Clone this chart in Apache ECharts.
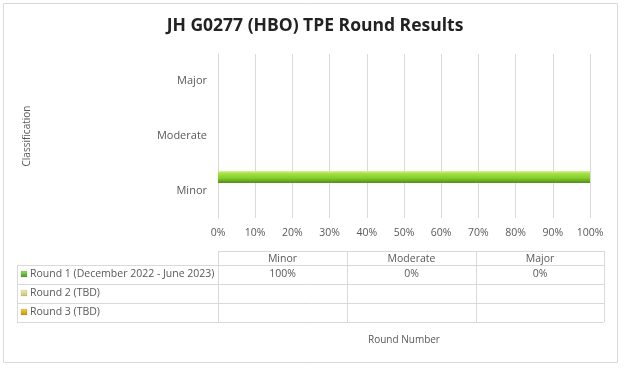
<!DOCTYPE html>
<html><head><meta charset="utf-8">
<script src="https://cdn.jsdelivr.net/npm/echarts@6/dist/echarts.min.js"></script>
<style>html,body{margin:0;padding:0;background:#fff}#c{width:624px;height:371px}</style>
</head><body><div id="c"></div>
<script>
var titleText = 'JH G0277 (HBO) TPE Round Results';
var categories = ['Minor', 'Moderate', 'Major'];
var seriesNames = ['Round 1 (December 2022 - June 2023)', 'Round 2 (TBD)', 'Round 3 (TBD)'];
var round1 = [100, 0, 0];
var round2 = [null, null, null];
var round3 = [null, null, null];
var xTicks = [0, 10, 20, 30, 40, 50, 60, 70, 80, 90, 100];
var yAxisTitle = 'Classification';
var xAxisTitle = 'Round Number';

var font = 'Open Sans';
var txt = '#595959';
var lineC = '#d9d9d9';
var keyColors = [
  new echarts.graphic.LinearGradient(0,0,0,1,[{offset:0,color:'#9fdc5a'},{offset:1,color:'#3f9a2a'}]),
  new echarts.graphic.LinearGradient(0,0,0,1,[{offset:0,color:'#eeeeb0'},{offset:1,color:'#c8c070'}]),
  new echarts.graphic.LinearGradient(0,0,0,1,[{offset:0,color:'#f5d040'},{offset:1,color:'#c89000'}])
];
var barGrad = new echarts.graphic.LinearGradient(0,0,0,1,[
  {offset:0,color:'#d4f59a'},{offset:0.2,color:'#a8e248'},{offset:0.6,color:'#84cc2a'},{offset:1,color:'#4f8e18'}]);

var allData = [round1, round2, round3];
var chart = echarts.init(document.getElementById('c'));

var colX = [218, 347, 476, 604];
var rowY = [251, 265, 284, 303, 322];
var tblLeft = 17;
var g = [];
g.push({type:'rect', shape:{x:3.5,y:3.5,width:614,height:359}, style:{fill:null, stroke:lineC, lineWidth:1}, silent:true});
g.push({type:'line', shape:{x1:colX[0],y1:rowY[0]+0.5,x2:colX[3],y2:rowY[0]+0.5}, style:{stroke:lineC,lineWidth:1}});
for (var r=1;r<rowY.length;r++){
  g.push({type:'line', shape:{x1:tblLeft,y1:rowY[r]+0.5,x2:colX[3],y2:rowY[r]+0.5}, style:{stroke:lineC,lineWidth:1}});
}
g.push({type:'line', shape:{x1:tblLeft+0.5,y1:rowY[1],x2:tblLeft+0.5,y2:rowY[4]}, style:{stroke:lineC,lineWidth:1}});
for (var c=0;c<colX.length;c++){
  g.push({type:'line', shape:{x1:colX[c]+0.5,y1:rowY[0],x2:colX[c]+0.5,y2:rowY[4]}, style:{stroke:lineC,lineWidth:1}});
}
categories.forEach(function(cat,i){
  g.push({type:'text', style:{text:cat, x:(colX[i]+colX[i+1])/2, y:(rowY[0]+rowY[1])/2+1, align:'center', verticalAlign:'middle', font:'10.5px "'+font+'"', fill:txt}});
});
seriesNames.forEach(function(name,s){
  var yc = (rowY[s+1]+rowY[s+2])/2;
  g.push({type:'rect', shape:{x:21,y:yc-3.5,width:6,height:6}, style:{fill:keyColors[s], stroke:'rgba(0,0,0,0.15)', lineWidth:0.5}});
  g.push({type:'text', style:{text:name, x:30, y:yc, align:'left', verticalAlign:'middle', font:'10.5px "'+font+'"', fill:txt}});
  allData[s].forEach(function(v,i){
    if (v===null) return;
    g.push({type:'text', style:{text:v+'%', x:(colX[i]+colX[i+1])/2, y:yc, align:'center', verticalAlign:'middle', font:'10.5px "'+font+'"', fill:txt}});
  });
});

chart.setOption({
  animation:false,
  backgroundColor:'#fff',
  title:{text:titleText, left:310, top:12, textAlign:'center', textStyle:{fontFamily:font, fontWeight:'bold', fontSize:17.5, color:'#222'}},
  grid:{left:218, right:34, top:54, bottom:153, containLabel:false},
  xAxis:{type:'value', min:0, max:100, interval:10,
    axisLabel:{formatter:'{value}%', color:txt, fontFamily:font, fontSize:10.5, margin:10},
    axisLine:{show:false}, axisTick:{show:false},
    splitLine:{lineStyle:{color:lineC}},
    name:xAxisTitle, nameLocation:'middle', nameGap:117, nameTextStyle:{color:txt, fontFamily:font, fontSize:10}},
  yAxis:{type:'category', data:categories,
    axisLabel:{color:txt, fontFamily:font, fontSize:11, margin:11},
    axisLine:{show:true, lineStyle:{color:lineC}}, axisTick:{show:false},
    name:yAxisTitle, nameLocation:'middle', nameRotate:90, nameGap:186, nameTextStyle:{color:txt, fontFamily:font, fontSize:10}},
  series:[
    {name:seriesNames[0], type:'bar', data:round1, barWidth:12, barGap:'14%', itemStyle:{color:barGrad, borderWidth:0}},
    {name:seriesNames[1], type:'bar', data:round2, barWidth:12, barGap:'14%', itemStyle:{color:keyColors[1]}},
    {name:seriesNames[2], type:'bar', data:round3, barWidth:12, barGap:'14%', itemStyle:{color:keyColors[2]}}
  ],
  graphic:g
});
</script></body></html>
